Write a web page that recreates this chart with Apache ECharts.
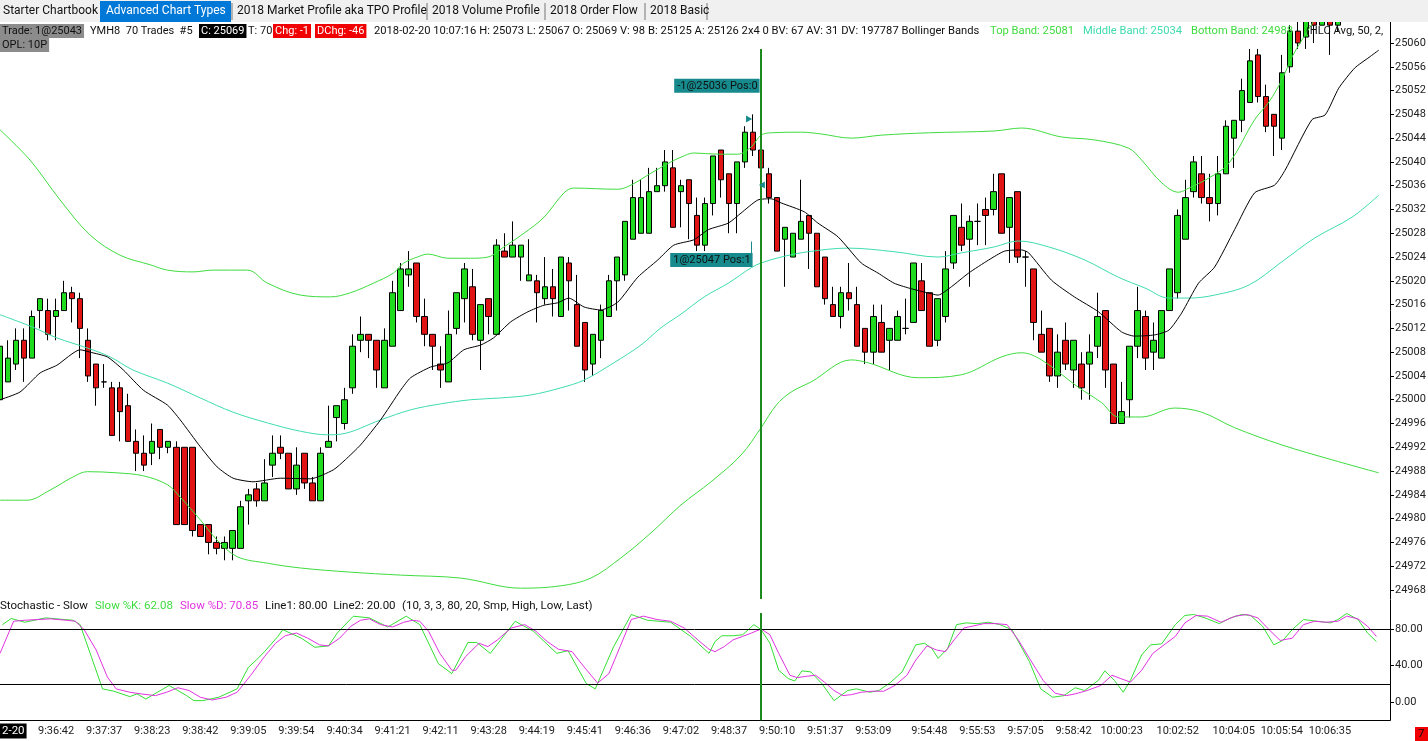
<!DOCTYPE html>
<html>
<head>
<meta charset="utf-8">
<title>YMH8 chart</title>
<script src="https://cdn.jsdelivr.net/npm/echarts@6/dist/echarts.min.js"></script>
<style>
  html, body { margin: 0; padding: 0; background: #fff; }
  #chart { width: 1428px; height: 741px; }
</style>
</head>
<body>
<div id="chart"></div>
<script>
// ---- candles ----
const open = [25000,25003,25006,25010,25007,25015,25015,25014,25015,25018,
  25017,25010,25006,25003,25002,25002,24999,24993,24991,24991,
  24995,24992,24992,24992,24992,24979,24979,24976,24975,24975,
  24975,24983,24985,24983,24989,24992,24991,24985,24991,24986,
  24983,24992,24997,24996,25002,25010,25011,25010,25002,25009,
  25015,25021,25023,25014,25011,25006,25003,25012,25017,25019,
  25010,25017,25011,25025,25024,25024,25020,25020,25017,25019,
  25014,25023,25016,25013,25006,25010,25014,25020,25021,25027,
  25028,25028,25035,25036,25039,25035,25037,25031,25026,25033,
  25042,25038,25033,25040,25045,25042,25038,25034,25027,25024,
  25027,25031,25028,25024,25016,25014,25018,25016,25012,25008,
  25013,25010,25010,25012,25013,25020,25018,25010,25014,25023,
  25029,25027,25030,25032,25032,25038,25029,25035,25024,25022,
  25011,25012,25004,25010,25005,25006,25006,25009,25015,25006,
  24996,25000,25009,25014,25008,25007,25015,25018,25027,25035,
  25038,25034,25033,25038,25044,25047,25050,25058,25051,25048,
  25044,25056,25062,25061,25065,25063,25066,25063,25067,25070,
  25072,25070,25069];
const high = [25010,25010,25012,25012,25015,25017,25017,25017,25020,25019,
  25018,25012,25006,25006,25003,25003,25001,24995,24994,24996,
  24995,24993,24993,24992,24992,24979,24979,24977,24977,24978,
  24983,24985,24986,24990,24994,24994,24991,24992,24991,24987,
  24992,24999,24999,25002,25011,25014,25011,25010,25012,25020,
  25023,25025,25023,25017,25011,25009,25015,25018,25023,25022,
  25016,25017,25027,25028,25030,25026,25027,25021,25024,25022,
  25024,25024,25021,25013,25011,25016,25021,25024,25030,25037,
  25037,25039,25039,25042,25042,25037,25037,25034,25034,25041,
  25042,25038,25040,25046,25048,25042,25039,25034,25029,25028,
  25037,25031,25028,25024,25019,25019,25023,25019,25012,25016,
  25016,25012,25015,25017,25023,25023,25018,25017,25025,25031,
  25033,25031,25033,25034,25038,25038,25034,25035,25025,25022,
  25015,25012,25011,25013,25010,25008,25011,25018,25015,25006,
  25003,25009,25019,25015,25013,25015,25022,25032,25037,25041,
  25041,25038,25041,25047,25047,25054,25059,25059,25053,25048,
  25058,25063,25064,25066,25067,25068,25068,25068,25071,25074,
  25073,25072,25073];
const low = [24997,25003,25005,25003,25007,25012,25010,25010,25015,25013,
  25007,25003,24999,25002,24994,24993,24993,24988,24988,24989,
  24990,24991,24979,24979,24977,24977,24974,24974,24973,24973,
  24975,24979,24982,24983,24987,24990,24985,24984,24985,24983,
  24983,24992,24993,24995,25001,25008,25007,25002,25002,25009,
  25015,25019,25013,25009,25005,25002,25003,25011,25013,25010,
  25005,25011,25011,25024,25024,25020,25020,25013,25016,25014,
  25014,25015,25009,25003,25004,25007,25014,25015,25020,25027,
  25028,25028,25035,25035,25029,25029,25027,25025,25025,25031,
  25034,25028,25028,25039,25041,25039,25033,25025,25019,25024,
  25027,25022,25019,25016,25014,25012,25015,25009,25006,25006,
  25008,25005,25010,25011,25013,25015,25009,25009,25013,25022,
  25025,25019,25026,25026,25031,25028,25023,25023,25019,25010,
  25008,25003,25002,25005,25002,25000,25000,25007,25002,24996,
  24996,24997,25007,25005,25005,25007,25015,25017,25027,25034,
  25033,25030,25031,25038,25039,25045,25050,25050,25045,25041,
  25042,25055,25059,25059,25060,25063,25058,25062,25065,25068,
  25068,25067,25067];
const close = [25009,25007,25010,25007,25014,25017,25011,25015,25018,25017,
  25012,25004,25002,25003,24994,24998,24993,24991,24989,24993,
  24992,24993,24979,24979,24978,24977,24976,24975,24976,24978,
  24982,24984,24983,24986,24991,24991,24985,24989,24986,24983,
  24991,24993,24999,25000,25009,25011,25010,25005,25010,25018,
  25022,25022,25014,25011,25009,25005,25011,25018,25022,25011,
  25016,25014,25026,25024,25026,25026,25021,25018,25019,25017,
  25024,25020,25009,25005,25011,25015,25020,25024,25030,25034,
  25034,25035,25036,25040,25029,25036,25033,25026,25033,25041,
  25037,25033,25040,25045,25042,25039,25034,25025,25029,25028,
  25030,25028,25019,25017,25014,25018,25017,25009,25008,25014,
  25008,25012,25014,25012,25023,25015,25009,25017,25022,25031,
  25026,25030,25030,25031,25035,25028,25034,25024,25024,25013,
  25008,25004,25008,25006,25010,25002,25008,25014,25005,24996,
  24998,25009,25015,25007,25010,25015,25022,25031,25034,25040,
  25034,25033,25038,25046,25047,25052,25057,25051,25046,25046,
  25055,25062,25060,25065,25063,25066,25063,25067,25070,25072,
  25070,25069,25069];

// ---- overlay lines, [bar index, value] ----
const topBand = [[0,25045.4],[3.75,25040.3],[7.5,25033.6],[11.25,25027.7],[15,25024.3],[18.75,25022.7],[20.9,25021.8],[24.1,25021.5],[26.6,25021.8],[30.9,25021.8],[33.4,25019.6],[37.5,25017.6],[41.25,25017.3],[43.75,25018.0],[46.6,25019.6],[49.1,25021.3],[50.4,25023.0],[52.1,25024.0],[53.4,25024.5],[55.9,25023.8],[58.75,25023.8],[60.9,25024.0],[62.9,25025.7],[65.4,25028.0],[67.9,25030.7],[70.4,25034.8],[71.6,25035.6],[77.1,25035.4],[78.75,25036.1],[81.25,25038.1],[83.75,25040.0],[85,25040.8],[86.6,25041.5],[89.6,25041.3],[92.1,25041.3],[93.75,25042.5],[95,25044.5],[96.25,25044.9],[100,25045.0],[102.5,25044.7],[106.25,25044.0],[110,25044.5],[115.9,25044.9],[124.1,25045.2],[127.5,25045.7],[132.5,25044.2],[136.6,25043.7],[140.9,25042.3],[142.5,25040.3],[145,25036.5],[147.1,25034.9],[148.4,25035.6],[150.9,25037.3],[153.4,25039.8],[156.6,25047.1],[158.4,25050.1],[160,25053.8],[161.25,25057.6],[162.5,25060.5],[166,25068],[172,25081]];
const midBand = [[0,25014.3],[4.1,25012.2],[7.1,25010.4],[10.9,25008.7],[13.75,25007.2],[16.6,25005.0],[20.9,25002.8],[25,25000.3],[29.1,24997.9],[33.4,24996.1],[37.5,24994.7],[40.9,24994.1],[42.5,24994.2],[47.5,24996.6],[51.25,24998.3],[55,24999.3],[58.75,25000.0],[62.5,25000.3],[66.25,25000.8],[70,25002.0],[72.9,25003.3],[76.6,25006.2],[80,25009.2],[82.5,25012.1],[85,25014.4],[87.9,25017.3],[90.9,25019.6],[93.75,25022.2],[95,25023.0],[97.5,25024.0],[100.9,25024.9],[105.9,25025.5],[111.6,25024.9],[117.1,25024.0],[120,25024.7],[124.1,25025.7],[127.1,25026.7],[130.9,25025.7],[135.4,25023.5],[139.6,25020.6],[142.9,25018.8],[145.9,25017.1],[148.4,25017.1],[151.6,25017.6],[155.9,25019.3],[160,25023.2],[164.1,25027.2],[168.75,25030.7],[172.1,25034.4]];
const botBand = [[0,24983.1],[3.4,24983.1],[6.25,24984.8],[9.1,24987.0],[10.9,24987.9],[14.6,24987.7],[17.9,24987.2],[20.9,24985.7],[22.5,24983.6],[25,24979.8],[27.1,24976.4],[29.6,24973.6],[33.4,24972.5],[37.5,24971.7],[43.75,24971.0],[50,24970.5],[57.5,24970.0],[65,24968.3],[70,24968.7],[73.75,24970.0],[77.5,24973.4],[81.25,24977.6],[85,24982.3],[88.75,24986.2],[92.5,24990.7],[95,24995.3],[96.9,24999.1],[98.75,25001.3],[101.25,25003.0],[106.25,25006.7],[108.4,25006.2],[114.6,25003.7],[120,25004.2],[125,25007.2],[127.5,25007.9],[130,25006.7],[134.6,25002.1],[137.5,24999.5],[139.6,24997.1],[142.5,24997.1],[146.6,24998.6],[150,24997.9],[154.1,24995.3],[160,24992.4],[166.25,24989.9],[172.1,24987.7]];
const avgLine = [[0,25000.0],[2.5,25001.3],[5,25004.5],[7.1,25005.8],[10,25008.4],[11.25,25008.0],[13.4,25007.2],[15.4,25005.0],[17.9,25001.6],[20.9,24999.1],[22.5,24996.6],[25,24992.1],[27.1,24988.7],[29.1,24986.8],[31.6,24986.2],[35,24986.8],[38.75,24986.7],[41.6,24988.2],[43.1,24989.9],[45,24992.4],[47.5,24996.6],[50,25001.6],[51.25,25003.7],[53.75,25005.5],[55.9,25006.2],[57.9,25008.4],[60,25009.2],[61.6,25010.4],[63.75,25013.1],[65.9,25014.8],[67.9,25015.9],[69.6,25016.3],[71,25017.1],[72.9,25015.6],[75,25015.1],[77.1,25016.4],[79.6,25020.6],[82.1,25023.5],[84.1,25026.0],[86.6,25026.9],[88.4,25028.6],[90.9,25029.7],[92.5,25031.4],[94.6,25033.6],[96.25,25033.8],[97.5,25033.1],[100.4,25031.6],[102.1,25029.7],[104.6,25027.4],[107.5,25023.0],[109.6,25021.3],[111.6,25019.6],[113.4,25018.8],[115.4,25018.1],[117.1,25017.6],[118.75,25019.0],[120.9,25021.3],[123.4,25023.5],[125.4,25025.0],[127.5,25025.2],[128.4,25024.7],[131.25,25020.1],[134.1,25017.3],[137.1,25014.8],[140,25011.4],[141.6,25010.7],[144.1,25010.9],[145.9,25011.7],[147.5,25014.6],[149.6,25019.6],[151.6,25022.3],[154.1,25028.6],[156.6,25034.8],[159.1,25036.1],[160.4,25038.6],[163.75,25047.1],[165.4,25047.9],[167.1,25052.4],[169.1,25055.8],[170.9,25057.6],[172.1,25058.8]];

// ---- slow stochastic ----
const slowK = [[0.3,84.8],[1.4,91.5],[3.1,87.4],[5.7,92.2],[8.0,90.4],[9.1,89.6],[10.0,84.8],[11.4,49.6],[12.8,14.4],[14.2,11.8],[16.2,5.9],[17.1,8.9],[18.2,3.3],[21.1,18.1],[23.3,7.0],[24.2,1.5],[25.3,1.5],[27.3,5.2],[29.6,14.4],[31.0,38],[32.0,46],[33.0,55],[34.7,72],[35.3,79.3],[37.6,70],[39.3,60],[41.0,61.5],[42.1,75.6],[44.1,94],[46.1,92.2],[48.4,82.2],[50.7,94],[52.4,84.8],[54.7,42.2],[56.4,31.1],[58.4,65.2],[59.5,65.2],[61.2,53.3],[64.3,88.5],[66.6,77.4],[69.5,53.3],[70.9,56.3],[73.2,20],[74.3,14.4],[76.6,60.7],[78.8,95.9],[80.8,89.6],[83.7,87.4],[86.2,71.9],[88.5,53.3],
  [89.25,66.3],[90.1,72.6],[91.5,72.6],[92.7,73.7],[94.1,84.8],[95.0,79.3],[96.1,64.4],[97.2,34.8],[98.4,25.6],[99.2,23.0],[100.1,34.1],[101.2,33.0],[102.6,20.0],[104.1,1.5],[105.8,12.6],[106.9,14.4],[108.6,10.7],[109.7,12.6],[111.2,21.8],[112.6,33.0],[114.3,62.6],[115.4,64.4],[116.3,58.9],[117.1,47.8],[118.3,58.9],[119.4,84.8],[120.6,86.7],[122.0,85.9],[123.4,87.4],[124.8,84.8],[126.3,79.3],[128.5,44.1],[129.9,14.4],[131.4,5.2],[132.8,7.0],[134.2,15.6],[135.4,12.6],[137.1,23.7],[137.9,34.1],[139.1,23.7],[140.2,10.7],[141.1,23.7],[142.5,51.5],[143.6,62.6],[145.0,63.7],[146.7,84.8],[147.9,94.8],[149.0,95.9],[150.4,92.2],[152.2,85.9],[153.6,92.2],[155.0,95.9],[156.1,94.8],[157.6,83.0],[159.0,62.6],[160.1,67.4],[161.3,79.3],[162.7,90.4],[164.4,88.5],[166.1,86.7],[167.0,90.4],[168.1,97.0],[169.5,90.4],[170.7,75.6],[171.8,66.3]];
const slowD = [[0,53.3],[1.7,88.5],[3.1,89.6],[6.3,91.1],[8.3,89.6],[9.4,88.5],[10.5,79.3],[12.0,57.0],[13.4,27.4],[14.5,14.4],[16.2,10.7],[17.6,8.9],[19.4,7.0],[20.8,10.7],[22.2,15.6],[23.6,12.6],[25.0,5.2],[26.5,2.2],[28.2,5.2],[29.6,10.7],[31.3,29.3],[33.0,49.6],[34.4,64.4],[35.6,72.6],[37.0,75.6],[38.4,70],[39.9,62.6],[41.0,61.5],[42.4,70],[43.8,83.0],[45.0,89.6],[46.1,91.1],[47.5,84.8],[49.0,82.2],[50.4,87.4],[51.5,89.6],[52.4,88.5],[53.5,77.4],[54.9,53.3],[56.4,34.8],[56.9,34.8],[58.1,49.6],[59.8,64.4],[60.9,60.7],[62.1,68.1],[63.8,81.1],[65.5,84.8],[66.9,77.4],[68.3,66.3],[69.7,57.8],[71.4,55.2],[72.9,38.5],[74.6,20.7],[76.0,31.1],[77.4,60.7],[78.8,90.4],[80.3,94.1],[82.0,90.4],[83.7,88.5],[85.4,81.1],[87.1,68.1],[88.5,57.8],
  [89.25,55.2],[90.4,60.7],[91.5,68.1],[92.7,71.9],[93.8,75.6],[95.0,80],[96.1,73.7],[97.2,53.3],[98.6,29.3],[99.5,26.7],[100.6,28.1],[101.8,29.3],[102.9,21.8],[104.1,12.6],[105.2,7.0],[106.3,8.1],[107.5,10.7],[108.9,11.8],[110.3,11.8],[111.7,18.1],[113.2,29.3],[114.3,45.9],[115.7,61.5],[116.9,57.0],[118.0,55.2],[119.1,68.1],[120.3,81.1],[121.7,83.7],[122.8,85.9],[124.3,85.9],[125.7,84.8],[127.1,68.1],[128.5,47.8],[130.2,23.7],[131.7,9.6],[133.1,7.0],[134.2,8.9],[135.7,12.6],[137.4,18.1],[138.8,29.3],[139.9,25.6],[141.1,21.8],[142.5,34.8],[143.9,53.3],[145.3,62.6],[146.7,71.9],[147.9,86.7],[149.3,94.8],[150.7,94.1],[152.4,87.4],[154.2,94.1],[155.6,95.9],[157.0,92.2],[158.4,79.3],[159.8,67.4],[161.3,70],[162.7,84.8],[164.1,88.5],[165.5,87.4],[167.0,88.5],[168.1,94.1],[169.5,91.1],[170.7,83.0],[171.8,71.9]];

// ---- axes ----
const priceTicks = [24968,24972,24976,24980,24984,24988,24992,24996,25000,25004,25008,25012,
  25016,25020,25024,25028,25032,25036,25040,25044,25048,25052,25056,25060];
const stochTicks = [0, 40, 80];
const tickIdx = [7,13,19,25,31,37,43,49,55,61,67,73,79,85,91,97,103,109,116,122,128,134,140,147,154,160,166];
const tickLabels = ['9:36:42','9:37:37','9:38:23','9:38:42','9:39:05','9:39:54','9:40:34','9:41:21','9:42:11',
  '9:43:28','9:44:19','9:45:41','9:46:36','9:47:02','9:48:37','9:50:10','9:51:37','9:53:09','9:54:48',
  '9:55:53','9:57:05','9:58:42','10:00:23','10:02:52','10:04:05','10:05:54','10:06:35'];
const markBar = 95; // vertical marker bar

const FONT = 'Roboto, "Noto Sans", sans-serif';
const N = 174;
const cats = Array.from({ length: N }, (_, i) => String(i));
const labelAt = {};
tickIdx.forEach((k, j) => { labelAt[k] = tickLabels[j]; });

const chart = echarts.init(document.getElementById('chart'));

const lineSeries = (name, data, color, extra) => Object.assign({
  name,
  type: 'line',
  xAxisIndex: 1,
  yAxisIndex: 0,
  data,
  smooth: 0.35,
  symbol: 'none',
  silent: true,
  z: 3,
  lineStyle: { color, width: 1 }
}, extra || {});

const txt = (x, y, text, fill, bg, size, align) => ({
  type: 'text',
  x, y,
  z: 100,
  style: {
    text,
    fill,
    font: (size || 11.5) + 'px ' + FONT,
    align: align || 'left',
    verticalAlign: 'middle',
    backgroundColor: bg || null,
    padding: bg ? [2, 2, 1, 2] : 0
  }
});

const tradeLabel = (coord, text, dist) => ({
  coord, symbol: 'rect', symbolSize: 1, itemStyle: { color: 'rgba(0,0,0,0)' },
  label: { show: true, position: 'left', distance: dist, formatter: text,
    backgroundColor: '#168a8c', color: '#111', fontSize: 11, fontFamily: FONT, padding: [2, 2, 1, 3] }
});

const option = {
  animation: false,
  backgroundColor: '#fff',
  textStyle: { fontFamily: FONT },
  grid: [
    { left: -4, width: 1394, top: 22.2, height: 576.7, outerBoundsMode: 'none', containLabel: false },
    { left: -4, width: 1394, top: 599.8, height: 120.45, outerBoundsMode: 'none', containLabel: false }
  ],
  xAxis: [
    { type: 'category', gridIndex: 0, data: cats, show: false, axisLine: { onZero: false } },
    { type: 'value', gridIndex: 0, min: -0.5, max: N - 0.5, show: false, axisLine: { onZero: false } },
    {
      type: 'category', gridIndex: 1, data: cats, position: 'bottom',
      axisLine: { onZero: false, lineStyle: { color: '#000', width: 1 } },
      axisTick: { alignWithLabel: true, length: 4, lineStyle: { color: '#000' },
        interval: (i) => labelAt[i] !== undefined },
      axisLabel: { interval: (i) => labelAt[i] !== undefined, formatter: (v, i) => labelAt[i] || '',
        color: '#222', fontSize: 11, margin: 5, fontFamily: FONT },
      splitLine: { show: false }
    },
    { type: 'value', gridIndex: 1, min: -0.5, max: N - 0.5, show: false, axisLine: { onZero: false } }
  ],
  yAxis: [
    {
      type: 'value', gridIndex: 0, position: 'right', min: 24966.5, max: 25063.5,
      axisLine: { show: true, onZero: false, lineStyle: { color: '#000' } },
      axisTick: { show: true, length: 4, lineStyle: { color: '#000' }, customValues: priceTicks },
      axisLabel: { color: '#222', fontSize: 11, margin: 5, fontFamily: FONT, customValues: priceTicks,
        formatter: (v) => String(v) },
      splitLine: { show: false }
    },
    {
      type: 'value', gridIndex: 1, position: 'right', min: -20, max: 112,
      axisLine: { show: true, onZero: false, lineStyle: { color: '#000' } },
      axisTick: { show: true, length: 4, lineStyle: { color: '#000' }, customValues: stochTicks },
      axisLabel: { color: '#222', fontSize: 11, margin: 5, fontFamily: FONT, customValues: stochTicks,
        formatter: (v) => v.toFixed(2) },
      splitLine: { show: false }
    }
  ],
  series: [
    {
      name: 'YMH8',
      type: 'candlestick',
      xAxisIndex: 0,
      yAxisIndex: 0,
      barWidth: 6,
      clip: true,
      data: open.map((o, i) => [o, close[i], low[i], high[i]]),
      itemStyle: {
        color: '#1fdc1f', color0: '#e01414',
        borderColor: '#000', borderColor0: '#000', borderWidth: 1
      }
    },
    lineSeries('Top Band', topBand, '#3fdc3f', {
      markLine: {
        silent: true, symbol: 'none', label: { show: false },
        lineStyle: { color: '#1d8a1d', width: 2, type: 'solid' },
        data: [[{ coord: [markBar, 25059] }, { coord: [markBar, 24966.5] }]]
      }
    }),
    lineSeries('Middle Band', midBand, '#3fdcae'),
    lineSeries('Bottom Band', botBand, '#3fdc3f'),
    lineSeries('HLC Avg', avgLine, '#000', {
      smooth: 0.2,
      markPoint: {
        silent: true,
        data: [
          tradeLabel([markBar, 25052.8], '-1@25036 Pos:0', 1),
          tradeLabel([94, 25023.5], '1@25047 Pos:1', 0),
          { coord: [93.5, 25047.2], symbol: 'triangle', symbolSize: [7, 6], symbolRotate: -90,
            itemStyle: { color: '#168a8c' }, label: { show: false } },
          { coord: [95.1, 25036.1], symbol: 'triangle', symbolSize: [7, 6], symbolRotate: 90,
            itemStyle: { color: '#168a8c' }, label: { show: false } }
        ]
      },
      markLine: {
        silent: true, symbol: 'none', label: { show: false },
        lineStyle: { color: '#168a8c', width: 1, type: 'solid' },
        data: [[{ coord: [93.75, 25026.6] }, { coord: [93.75, 25023.6] }]]
      }
    }),
    {
      name: 'Slow %K', type: 'line', xAxisIndex: 3, yAxisIndex: 1, data: slowK,
      symbol: 'none', silent: true, z: 3,
      lineStyle: { color: '#33e033', width: 1 },
      markLine: {
        silent: true, symbol: 'none', label: { show: false },
        lineStyle: { color: '#000', width: 1, type: 'solid' },
        data: [
          { yAxis: 80 }, { yAxis: 20 },
          [{ coord: [markBar, 97.5], lineStyle: { color: '#1d8a1d', width: 2 } }, { coord: [markBar, -20] }]
        ]
      }
    },
    {
      name: 'Slow %D', type: 'line', xAxisIndex: 3, yAxisIndex: 1, data: slowD,
      symbol: 'none', silent: true, z: 3,
      lineStyle: { color: '#e033e0', width: 1 }
    }
  ],
  graphic: [
    // tab strip
    { type: 'rect', z: 90, shape: { x: 0, y: 0, width: 1428, height: 22 }, style: { fill: '#f0f0f0' } },
    { type: 'rect', z: 91, shape: { x: 100, y: 1, width: 131, height: 21 }, style: { fill: '#0078d7' } },
    txt(3, 11, 'Starter Chartbook', '#111', null, 12),
    txt(106, 11, 'Advanced Chart Types', '#fff', null, 12),
    txt(237, 11, '2018 Market Profile aka TPO Profile', '#111', null, 12),
    txt(432, 11, '2018 Volume Profile', '#111', null, 12),
    txt(550, 11, '2018 Order Flow', '#111', null, 12),
    txt(650, 11, '2018 Basic', '#111', null, 12),
    ...[232, 427, 545, 645, 707].map((x) => ({
      type: 'line', z: 92, shape: { x1: x, y1: 3, x2: x, y2: 20 }, style: { stroke: '#777', lineWidth: 1 }
    })),
    // status line
    txt(0, 31, 'Trade: 1@25043', '#111', '#8c8c8c', 11),
    txt(90, 31, 'YMH8  70 Trades  #5', '#111', null, 11),
    txt(199, 31, 'C: 25069', '#fff', '#000', 11),
    txt(248, 31, 'T: 70', '#111', null, 11),
    txt(273, 31, 'Chg: -1', '#fff', '#f00000', 11),
    txt(315, 31, 'DChg: -46', '#fff', '#f00000', 11),
    txt(374, 31, '2018-02-20 10:07:16 H: 25073 L: 25067 O: 25069 V: 98 B: 25125 A: 25126 2x4 0 BV: 67 AV: 31 DV: 197787 Bollinger Bands',
      '#111', null, 11.2),
    txt(990, 31, 'Top Band: 25081', '#3fdc3f', null, 11.2),
    txt(1083, 31, 'Middle Band: 25034', '#3fdcae', null, 11.2),
    txt(1191, 31, 'Bottom Band: 24988', '#3fdc3f', null, 11.2),
    txt(1306, 31, '(HLC Avg, 50, 2,', '#111', null, 11.2),
    txt(0, 45, 'OPL: 10P', '#111', '#8c8c8c', 11),
    // stochastic header
    txt(0, 606, 'Stochastic - Slow', '#111'),
    txt(95, 606, 'Slow %K: 62.08', '#3fdc3f'),
    txt(180, 606, 'Slow %D: 70.85', '#e033e0'),
    txt(265, 606, 'Line1: 80.00  Line2: 20.00', '#111'),
    txt(402, 606, '(10, 3, 3, 80, 20, Smp, High, Low, Last)', '#111'),
    // date stamp and corner box
    txt(0, 731, '2-20', '#fff', '#000'),
    { type: 'rect', z: 90, shape: { x: 1415, y: 727, width: 13, height: 14 }, style: { fill: '#f00000' } },
    txt(1418, 734, '7', '#111')
  ]
};

chart.setOption(option);
</script>
</body>
</html>
